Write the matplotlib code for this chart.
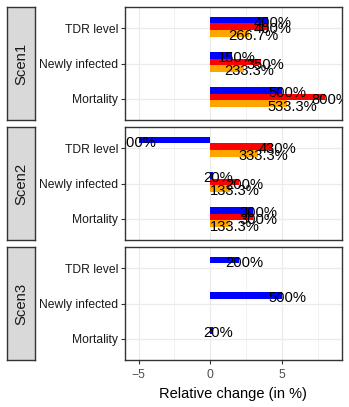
import matplotlib.pyplot as plt
import numpy as np

plt.rcParams["font.family"] = ["Liberation Sans", "DejaVu Sans"]

# Relative change per outcome, one list per scenario and series
outcomes = ["TDR level", "Newly infected", "Mortality"]
scenarios = ["Scen1", "Scen2", "Scen3"]

scen1_blue = [4.0, 1.5, 5.0]
scen1_red = [4.0, 3.5, 8.0]
scen1_orange = [2.667, 2.333, 5.333]

scen2_blue = [-5.0, 0.2, 3.0]
scen2_red = [4.3, 2.0, 3.0]
scen2_orange = [3.333, 1.333, 1.333]

scen3_blue = [2.0, 5.0, 0.2]
scen3_red = [np.nan, np.nan, np.nan]
scen3_orange = [np.nan, np.nan, np.nan]

series_colors = ["#0000FF", "#FF0000", "#FFA500"]
panel_data = [
    [scen1_blue, scen1_red, scen1_orange],
    [scen2_blue, scen2_red, scen2_orange],
    [scen3_blue, scen3_red, scen3_orange],
]


def pct_label(v):
    return f"{round(v * 100, 1):g}%"


def main():
    fig = plt.figure(figsize=(3.49, 4.07), dpi=100)

    left, width = 0.358, 0.621
    height = 0.2769
    bottoms = [0.7052, 0.4103, 0.1155]
    offsets = [-0.24, -0.05, 0.14]
    bar_h = 0.19
    y = np.arange(len(outcomes))

    for i, (scen, series) in enumerate(zip(scenarios, panel_data)):
        ax = fig.add_axes([left, bottoms[i], width, height])
        ax.set_axisbelow(True)

        for vals, color, off in zip(series, series_colors, offsets):
            vals = np.asarray(vals, dtype=float)
            ok = ~np.isnan(vals)
            ax.barh(y[ok] + off, vals[ok], height=bar_h, color=color, zorder=2)
            for yy, v in zip(y[ok], vals[ok]):
                tx = v + 0.35 if v > 0 else v - 0.25
                ax.text(tx, yy + off + 0.08, pct_label(v), ha="center", va="center",
                        fontsize=10.6, color="black", zorder=3, clip_on=True)

        ax.set_xlim(-5.95, 9.14)
        ax.set_ylim(2.6, -0.6)
        ax.set_xticks([-5, 0, 5])
        ax.set_xticks([-2.5, 2.5, 7.5], minor=True)
        ax.set_yticks(y)
        ax.set_yticklabels(outcomes)
        ax.grid(which="major", color="#EBEBEB", linewidth=0.9, zorder=0)
        ax.grid(which="minor", axis="x", color="#EBEBEB", linewidth=0.45, zorder=0)
        ax.tick_params(axis="y", which="major", length=3, width=0.8, color="#333333",
                       labelsize=8.7, labelcolor="#1A1A1A", pad=2)
        ax.tick_params(axis="x", which="major", length=3, width=0.8, color="#333333",
                       labelsize=8.7, labelcolor="#4D4D4D", pad=3.5)
        ax.tick_params(axis="x", which="minor", length=0)
        for sp in ax.spines.values():
            sp.set_color("#333333")
            sp.set_linewidth(1.0)
        if i < 2:
            ax.tick_params(axis="x", which="major", length=0, labelbottom=False)
        else:
            ax.set_xlabel("Relative change (in %)", fontsize=10.5, color="black", labelpad=4)

        # facet strip on the left side
        strip = fig.add_axes([0.0209, bottoms[i], 0.0794, height])
        strip.set_facecolor("#D9D9D9")
        strip.set_xticks([])
        strip.set_yticks([])
        for sp in strip.spines.values():
            sp.set_color("#333333")
            sp.set_linewidth(1.0)
        strip.text(0.5, 0.5, scen, rotation=90, ha="center", va="center",
                   fontsize=10.7, color="#1A1A1A", transform=strip.transAxes)

    fig.savefig("out.png", dpi=100)


if __name__ == "__main__":
    main()
